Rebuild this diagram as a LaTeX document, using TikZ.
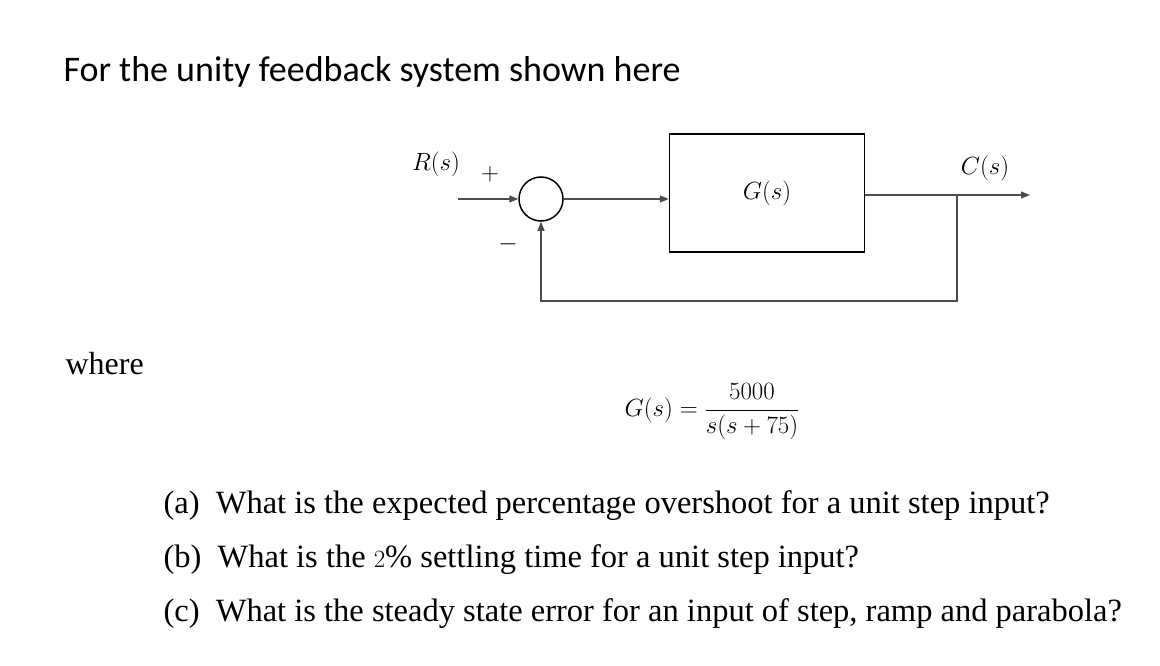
\documentclass[tikz,border=0pt]{standalone}
\usepackage{amsmath}
\usepackage{fontspec}
\setmainfont{Liberation Serif}
\newfontfamily\calib{Carlito}
\usetikzlibrary{arrows.meta}
\begin{document}
\begin{tikzpicture}[x=1pt,y=-1pt,
  wire/.style={draw=black!70,line width=1.2pt},
  arr/.style={wire,-{Triangle[length=9pt,width=7pt]}},
  q/.style={anchor=base west,font=\fontsize{32.5}{36}\selectfont}]
\useasboundingbox (0,0) rectangle (1160,666);
\node[anchor=base west,font=\calib\fontsize{36}{40}\selectfont] (title) at (60,82) {For the unity feedback system shown here};
\node[circle,draw=black,line width=1.5pt,minimum size=44pt,inner sep=0pt] (sum) at (541,199) {};
\node[draw=black,line width=1.5pt,minimum width=195pt,minimum height=118pt] (G) at (767,193) {\fontsize{34}{36}\selectfont $G(s)$};
\coordinate (in) at (458,199);
\coordinate (out) at (1030,195);
\coordinate (tap) at (957,195);
\coordinate (fb1) at (957,301);
\coordinate (fb2) at (541,301);
\draw[arr] (in) -- (sum.west);
\draw[arr] (sum.east) -- (G.west |- sum.east);
\draw[arr] (G.east |- out) -- (out);
\draw[arr] (tap) -- (fb1) -- (fb2) -- (sum.south);
\node[font=\fontsize{34}{36}\selectfont] (R) at (436,164) {$R(s)$};
\node[font=\fontsize{34}{36}\selectfont] (plus) at (490,174) {$+$};
\node[font=\fontsize{34}{36}\selectfont] (minus) at (508,244) {$-$};
\node[font=\fontsize{34}{36}\selectfont] (C) at (985,168) {$C(s)$};
\node[anchor=base west,font=\fontsize{32}{36}\selectfont] (where) at (62,374) {where};
\node[font=\fontsize{32}{36}\selectfont] (eq) at (712,412) {$G(s)=\dfrac{5000}{s(s+75)}$};
\node[q] (qa) at (160,513) {(a)\ \ What is the expected percentage overshoot for a unit step input?};
\node[q] (qb) at (160,567) {(b)\ \ What is the $2\%$ settling time for a unit step input?};
\node[q] (qc) at (160,621) {(c)\ \ What is the steady state error for an input of step, ramp and parabola?};
\end{tikzpicture}
\end{document}
